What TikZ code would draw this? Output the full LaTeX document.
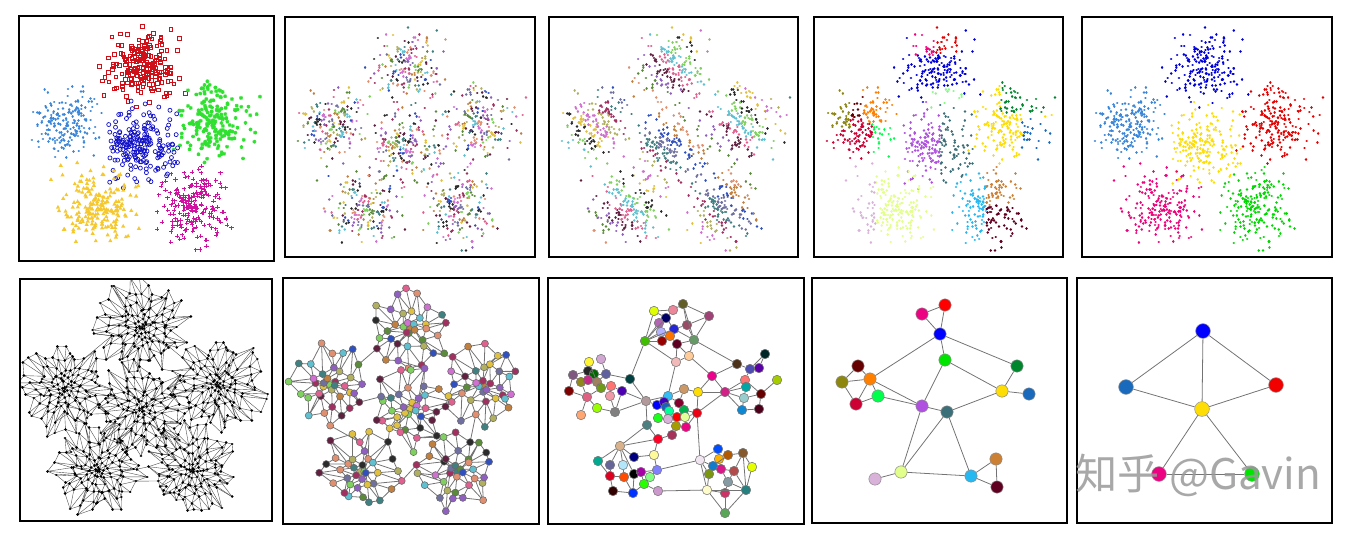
\documentclass[tikz,border=0pt]{standalone}
\usepackage{fontspec}
\newfontfamily\cjk{Noto Sans CJK SC}

% Gaussian point cloud: seed, centre x, centre y, points, spread, code per point
\newcommand{\cloud}[6]{%
  \pgfmathsetseed{#1}%
  \foreach \k in {1,...,#4}{%
    \pgfmathsetmacro\px{#2+#5*(rand+rand+rand)}%
    \pgfmathsetmacro\py{#3+#5*(rand+rand+rand)}%
    #6}}
% the six clusters of the data set, in panel coordinates
\def\cA{\cloud{11}{122}{52}{200}{16.5}}
\def\cB{\cloud{12}{46}{108}{200}{16.5}}
\def\cC{\cloud{13}{196}{106}{200}{16.5}}
\def\cD{\cloud{14}{123}{127}{200}{16.5}}
\def\cE{\cloud{15}{78}{190}{200}{16.5}}
\def\cF{\cloud{16}{175}{190}{200}{16.5}}
\newcommand{\allclouds}[1]{\cA{#1}\cB{#1}\cC{#1}\cD{#1}\cE{#1}\cF{#1}}
% one dot as a round-capped stub
\newcommand{\dotat}[1]{\draw[#1] (\px,\py) -- ++(0.01,0);}

% web of rings: name, centre x, centre y, rings, radius, seed
\newcommand{\web}[6]{%
  \pgfmathsetseed{#6}%
  \coordinate (#1-0-0) at (#2,#3);
  \foreach \r in {1,...,#4}{%
    \pgfmathtruncatemacro\m{6*\r}%
    \pgfmathsetmacro\rad{#5*(\r/#4)^1.6}%
    \foreach \j in {1,...,\m}{%
      \pgfmathsetmacro\ang{360*(\j+0.5*mod(\r,2))/\m+0.45*360/\m*rand}%
      \pgfmathsetmacro\rr{\rad*(1+0.28*rand)}%
      \coordinate (#1-\r-\j) at ({#2+\rr*cos(\ang)},{#3+\rr*sin(\ang)});
    }}}
\newcommand{\webedges}[2]{%
  \foreach \r in {1,...,#2}{%
    \pgfmathtruncatemacro\m{6*\r}%
    \pgfmathtruncatemacro\q{\r-1}%
    \foreach \j in {1,...,\m}{%
      \pgfmathtruncatemacro\nj{mod(\j,\m)+1}%
      \draw (#1-\r-\j) -- (#1-\r-\nj);
      \ifnum\r=1
        \draw (#1-\r-\j) -- (#1-0-0);
      \else
        \pgfmathsetmacro\fx{(\j+0.5*mod(\r,2))*\q/\r-0.5*mod(\q,2)}%
        \pgfmathtruncatemacro\fa{mod(floor(\fx)+6*\q-1,6*\q)+1}%
        \pgfmathtruncatemacro\fb{mod(ceil(\fx)+6*\q-1,6*\q)+1}%
        \draw (#1-\q-\fa) -- (#1-\r-\j) -- (#1-\q-\fb);
      \fi
    }}}
\newcommand{\webspots}[3]{% name, rings, code at (\wn)
  \def\wn{#1-0-0}#3%
  \foreach \r in {1,...,#2}{%
    \pgfmathtruncatemacro\m{6*\r}%
    \foreach \j in {1,...,\m}{\edef\wn{#1-\r-\j}#3}}}
% link two webs across their outer rings: web, centre, web, centre, rings, shift
\newcommand{\bridge}[8]{%
  \pgfmathsetmacro\ang{atan2(#6-#3,#5-#2)}%
  \pgfmathtruncatemacro\m{6*#7}%
  \pgfmathtruncatemacro\ja{mod(round(\ang*\m/360)+#8+2*\m-1,\m)+1}%
  \pgfmathtruncatemacro\jb{mod(round(\ang*\m/360)+\m/2-#8+2*\m-1,\m)+1}%
  \draw (#1-#7-\ja) -- (#4-#7-\jb);
}

\begin{document}
\begin{tikzpicture}[x=0.02cm, y=-0.02cm,
    frame/.style={draw=black, line width=0.6pt},
    dots/.style={line width=1.5pt, line cap=round},
    wire/.style={black!70, line width=0.22pt},
    link/.style={draw=black!55, line width=0.45pt},
    gn3/.style={circle, draw=black!55, line width=0.3pt, inner sep=0pt, minimum size=5.4pt},
    gn4/.style={circle, draw=black!45, line width=0.3pt, inner sep=0pt, minimum size=7pt},
    gn5/.style={circle, draw=black!40, line width=0.3pt, inner sep=0pt, minimum size=8.4pt}]
  % Define colours
  \definecolor{c1red}{HTML}{D01018}
  \definecolor{c1sky}{HTML}{3A86D8}
  \definecolor{c1green}{HTML}{30E030}
  \definecolor{c1blue}{HTML}{1010C8}
  \definecolor{c1gold}{HTML}{F5C830}
  \definecolor{c1mag}{HTML}{D010A0}
  \definecolor{pal0}{HTML}{2B2B2B}
  \definecolor{pal1}{HTML}{E06090}
  \definecolor{pal2}{HTML}{5A8A3A}
  \definecolor{pal3}{HTML}{3050C0}
  \definecolor{pal4}{HTML}{A03060}
  \definecolor{pal5}{HTML}{E0C040}
  \definecolor{pal6}{HTML}{60C0D0}
  \definecolor{pal7}{HTML}{9060C0}
  \definecolor{pal8}{HTML}{C08040}
  \definecolor{pal9}{HTML}{408080}
  \definecolor{pal10}{HTML}{D070D0}
  \definecolor{pal11}{HTML}{80D060}
  \definecolor{pal12}{HTML}{602040}
  \definecolor{pal13}{HTML}{E09070}
  \definecolor{pal14}{HTML}{7070A0}
  \definecolor{pal15}{HTML}{B0B060}
  % parts of the clusters in panel 4
  \colorlet{pA0}{blue!85!black}      \colorlet{pA1}{magenta!85!red}
  \colorlet{pA2}{red!90!black}       \colorlet{pA3}{green!50!white}
  \colorlet{pB0}{red!80!blue}        \colorlet{pB1}{olive!85!gray}
  \colorlet{pB2}{red!40!black}       \colorlet{pB3}{orange}
  \colorlet{pB4}{green!70!cyan}
  \colorlet{pC0}{yellow!80!orange}   \colorlet{pC1}{teal!50!green!70!black}
  \colorlet{pC2}{cyan!45!blue}
  \definecolor{pD0}{HTML}{B050E0}    \definecolor{pD1}{HTML}{3C7078}
  \colorlet{pE0}{lime!45!white}      \colorlet{pE1}{violet!30!white}
  \colorlet{pF0}{cyan!85!white}      \colorlet{pF1}{brown!80!orange}
  \colorlet{pF2}{purple!50!black}

  \useasboundingbox (0,0) rectangle (1346,532);

  % Top row, panel 1: the six clusters with their markers
  \begin{scope}[shift={(19,16)}]
    \clip (0,0) rectangle (255,245);
    \cA{\draw[c1red, line width=0.35pt] (\px,\py) +(-1.8,-1.8) rectangle +(1.8,1.8);}
    \cB{\draw[c1sky, dots] (\px,\py) -- ++(0.01,0);}
    \cC{\draw[c1green, line width=0.45pt] (\px,\py) +(-1.9,0) -- +(1.9,0) +(0,-1.9) -- +(0,1.9) +(-1.4,-1.4) -- +(1.4,1.4) +(-1.4,1.4) -- +(1.4,-1.4);}
    \cD{\draw[c1blue, line width=0.4pt] (\px,\py) circle (1.15pt);}
    \cE{\fill[c1gold] (\px,\py) +(0,-2.3) -- +(2.1,1.4) -- +(-2.1,1.4) -- cycle;}
    \cF{\draw[c1mag, line width=0.45pt] (\px,\py) +(-2.1,0) -- +(2.1,0) +(0,-2.1) -- +(0,2.1);}
  \end{scope}
  \draw[frame] (19,16) rectangle (274,261);

  % Top row, panel 2: many small groups
  \begin{scope}[shift={(285,17)}, dots]
    \clip (0,0) rectangle (250,240);
    \allclouds{\pgfmathtruncatemacro\ci{mod(abs(floor(\px/6)*7+floor(\py/6)*13),16)}\dotat{pal\ci}}
  \end{scope}
  \draw[frame] (285,17) rectangle (535,257);

  % Top row, panel 3: larger groups
  \begin{scope}[shift={(549,17)}, dots]
    \clip (0,0) rectangle (249,240);
    \allclouds{\pgfmathtruncatemacro\ci{mod(abs(floor(\px/12)*5+floor(\py/12)*11+3),16)}\dotat{pal\ci}}
  \end{scope}
  \draw[frame] (549,17) rectangle (798,257);

  % Top row, panel 4: a few parts per cluster
  \begin{scope}[shift={(814,17)}, dots]
    \clip (0,0) rectangle (249,240);
    \cA{\pgfmathtruncatemacro\ci{(\py<38 && \px>95 && \px<122) ? 1 : ((\py<36 && \px>122 && \px<147) ? 2 : ((\py>72 && \px>115 && \px<150) ? 3 : 0))}\dotat{pA\ci}}
    \cB{\pgfmathtruncatemacro\ci{(\px<36 && \py<112) ? 1 : ((\px>36 && \px<49 && \py<101) ? 2 : ((\px>49 && \py<106) ? 3 : ((\px>58 && \py>106) ? 4 : 0)))}\dotat{pB\ci}}
    \cC{\pgfmathtruncatemacro\ci{(\px>186 && \py<96) ? 1 : ((\px>208 && \py>100) ? 2 : 0)}\dotat{pC\ci}}
    \cD{\pgfmathtruncatemacro\ci{(\px>126) ? 1 : 0}\dotat{pD\ci}}
    \cE{\pgfmathtruncatemacro\ci{(\px<62) ? 1 : 0}\dotat{pE\ci}}
    \cF{\pgfmathtruncatemacro\ci{(\px>172 && \py<188) ? 1 : ((\px>172) ? 2 : 0)}\dotat{pF\ci}}
  \end{scope}
  \draw[frame] (814,17) rectangle (1063,257);

  % Top row, panel 5: the six clusters found
  \begin{scope}[shift={(1082,17)}, dots]
    \clip (0,0) rectangle (250,240);
    \cA{\dotat{pA0}}
    \cB{\dotat{c1sky}}
    \cC{\dotat{red!90!black}}
    \cD{\dotat{yellow!80!orange}}
    \cE{\dotat{magenta!85!red}}
    \cF{\dotat{green!85!black}}
  \end{scope}
  \draw[frame] (1082,17) rectangle (1332,257);

  % Bottom row, panel 1: the full graph
  \begin{scope}[wire]
    \clip (20,279) rectangle (272,521);
    \foreach \cl/\x/\y/\s in {A/142/327/21,B/65/389/22,C/218/385/23,D/142/409/24,E/98/470/25,F/192/470/26}{
      \web{w1\cl}{\x}{\y}{6}{40}{\s}
      \webedges{w1\cl}{6}
    }
    \foreach \p/\ax/\ay/\q/\bx/\by in {w1A/142/327/w1B/65/389, w1A/142/327/w1C/218/385,
        w1A/142/327/w1D/142/409, w1B/65/389/w1D/142/409, w1C/218/385/w1D/142/409,
        w1D/142/409/w1E/98/470, w1D/142/409/w1F/192/470, w1E/98/470/w1F/192/470,
        w1B/65/389/w1E/98/470, w1C/218/385/w1F/192/470}{
      \bridge{\p}{\ax}{\ay}{\q}{\bx}{\by}{6}{0}
      \bridge{\p}{\ax}{\ay}{\q}{\bx}{\by}{6}{2}
    }
    \foreach \cl in {A,B,C,D,E,F}{
      \webspots{w1\cl}{6}{\draw[black, line width=1.6pt, line cap=round] (\wn) -- ++(0.01,0);}
    }
  \end{scope}
  \draw[frame] (20,279) rectangle (272,521);

  % Bottom row, panel 2: first coarsening
  \begin{scope}[link]
    \foreach \cl/\x/\y/\s in {A/410/329/31,B/330/385/32,C/483/385/33,D/410/409/34,E/360/472/35,F/457/472/36}{
      \web{w2\cl}{\x}{\y}{3}{34}{\s}
      \webedges{w2\cl}{3}
    }
    \foreach \p/\ax/\ay/\q/\bx/\by in {w2A/410/329/w2B/330/385, w2A/410/329/w2C/483/385,
        w2A/410/329/w2D/410/409, w2B/330/385/w2D/410/409, w2C/483/385/w2D/410/409,
        w2D/410/409/w2E/360/472, w2D/410/409/w2F/457/472, w2E/360/472/w2F/457/472,
        w2B/330/385/w2E/360/472, w2C/483/385/w2F/457/472}{
      \bridge{\p}{\ax}{\ay}{\q}{\bx}{\by}{3}{0}
    }
    \pgfmathsetseed{40}
    \foreach \cl in {A,B,C,D,E,F}{
      \webspots{w2\cl}{3}{\pgfmathtruncatemacro\ci{random(0,15)}\filldraw[fill=pal\ci, draw=black!60, line width=0.3pt] (\wn) circle (2pt);}
    }
  \end{scope}
  \draw[frame] (283,278) rectangle (539,524);

  % Bottom row, panel 3: second coarsening
  \foreach \n/\x/\y/\c in {
      ta/654/311/lime!50!yellow, tb/673/310/pink!70!purple, tc/683/304/olive!60!black,
      td/709/316/magenta!60!black, te/666/318/blue!40!black, tf/659/323/violet!60!white,
      tg/687/325/purple!40!gray, th/661/332/blue!30!white, ti/674/329/blue!70!gray,
      tj/670/336/orange!90!red, tk/645/341/green!50!olive, tl/662/341/red!60!black,
      tm/677/344/purple!50!black, tn/694/340/gray!80!green, to/676/362/pink!90!gray,
      tp/689/356/orange!40!white,
      la/589/362/yellow!80!white, lb/601/359/violet!35!white, lc/588/371/black!85,
      ld/594/374/green!40!black, le/573/375/violet!30!gray, lf/606/374/blue!25!gray,
      lg/581/382/olive!80!gray, lh/588/380/magenta!80!black, li/597/382/brown!50!gray,
      lj/601/388/olive!60!green, lk/611/386/pink!60!red, ll/569/391/red!50!black,
      lm/587/397/purple!50!pink, ln/610/396/pink!80!purple, lo/622/391/violet!60!blue,
      lp/597/408/lime!80!green, lq/581/415/orange!40!pink, lr/615/412/gray,
      ls/630/379/teal!50!black,
      ma/646/401/gray!60!pink, mb/668/396/cyan!80, mc/684/389/brown!80!white,
      md/698/392/yellow!80!orange, me/725/392/magenta!70!violet, mf/657/405/blue,
      mg/664/402/blue!50!violet, mh/666/407/cyan!40!blue, mi/669/411/green!40!cyan,
      mj/679/403/purple!70!black, mk/684/410/teal!60!green, ml/697/413/red!70!purple,
      mm/658/418/green!90, mn/668/419/violet!30!white, mo/677/417/red,
      mp/685/417/lime!40!white, mq/676/426/olive!80!yellow, mr/686/427/magenta!90!red,
      ms/647/425/teal!40!gray, mt/672/435/purple!60!gray, mu/658/439/red!85!magenta,
      mv/712/376/magenta,
      ra/737/364/brown!40!black, rb/765/354/teal!30!black, rc/750/369/blue!40!gray,
      rd/759/368/violet!70!blue, re/745/380/red!55!white, rf/777/380/lime!60!olive,
      rg/746/387/teal!70!cyan, rh/744/398/teal!40!white, ri/761/394/red!40!black,
      rj/742/410/cyan!70!blue, rk/759/409/purple!40!black,
      ba/620/446/brown!60!white, bb/654/455/yellow!40!white, bc/634/457/blue!50!black,
      bd/598/461/cyan!40!green, be/610/465/blue!20!gray, bf/623/465/cyan!30!white,
      bg/610/476/purple!50!red, bh/624/477/orange!60!red, bi/634/474/black,
      bj/641/472/violet!70!magenta, bk/657/470/blue!50!white, bl/650/477/green!50!white,
      bm/644/484/green!80!lime, bn/613/491/black!80!red, bo/633/493/blue!80!cyan,
      bp/658/491/violet!40!white,
      ca/700/460/violet!10!white, cb/718/449/blue!70!cyan, cc/719/459/orange!60!yellow,
      cd/728/455/orange!70!black, ce/743/453/brown!70!black, cf/713/466/cyan!60!blue,
      cg/721/469/magenta!90!black, ch/734/471/red!40!gray, ci/709/474/olive!70!green,
      cj/752/467/lime!40!yellow, ck/728/482/cyan!20!gray, cl/746/490/teal!70!gray,
      cm/707/490/yellow!20!white, cn/725/493/purple!80, co/725/513/green!30!gray}
    \node[gn3, fill=\c] (\n) at (\x,\y) {};
  \foreach \a/\b in {ta/tb, tb/tc, tc/td, tc/tg, td/tg, td/tn, ta/tk, tf/tk, te/tk,
      tk/th, tk/ti, ti/tg, ti/tn, tg/tn, tc/tn, tm/tn, tm/to, tm/tp, tn/tp, tp/to,
      tk/to, tk/ls, to/mb, tp/mv, tn/ra, ta/te, te/ti, tl/tk,
      ra/rc, ra/mv, rc/rb, rc/rd, rb/rd, rc/re, mv/me, me/re, me/rg, me/rh, me/rj,
      re/rg, rg/rh, rh/ri, ri/rf, ri/rk, rj/rh, rj/rk, re/ri,
      mv/md, mc/md, md/me, md/ml, ml/me, ls/ma, ma/mb, ma/mf, ma/lr, ma/ms, ma/lo,
      mb/mj, mc/mj, ml/mk, ml/ca, ml/mr, ml/mp, ms/ba, ms/mu, mu/mt, mu/ba, mu/bb, mb/mc,
      la/lc, lc/ld, le/lc, le/lg, le/ll, lf/ld, lf/ls, lf/li, lg/lh, lh/li, li/lj,
      ll/lm, lm/lg, lm/lp, lm/lq, ln/lk, ln/lr, lo/lr, lr/lp, lk/lo, lj/lm, la/li, lb/lf,
      ba/bd, ba/be, ba/bf, ba/bc, ba/bi, bc/bb, bb/bk, bk/bj, bd/bg, be/bg, bf/bh,
      bg/bn, bg/bh, bn/bo, bh/bo, bi/bj, bi/bo, bj/bm, bl/bm, bm/bp, bm/bo, bp/cm,
      bk/ca, bk/bl,
      ca/cb, ca/ci, ca/cf, ca/cm, cm/ci, cm/cn, cm/co, cm/cl, co/cl, co/cn, cb/cc,
      cc/cd, cd/ce, ce/cj, ce/ch, ce/cl, cf/cg, cg/ch, cg/ck, ch/ck, ch/cl, ck/cn,
      ck/cl, cj/cl, cd/cf}
    \draw[link] (\a) -- (\b);
  \draw[frame] (548,278) rectangle (804,524);

  % Bottom row, panel 4: third coarsening
  \foreach \n/\x/\y/\c in {
      q1/922/314/magenta!90!red, q2/945/305/red, q3/940/334/blue,
      q4/945/360/green!90!black, q5/1017/366/teal!50!green!70!black,
      q6/858/366/red!40!black, q7/870/379/orange, q8/842/382/olive!90!gray,
      q9/878/396/green!70!cyan, q10/856/404/red!80!blue, q11/1002/391/yellow!80!orange,
      q12/1029/394/cyan!45!blue, q13/922/406/pD0,
      q14/947/412/pD1, q15/901/472/lime!45!white,
      q16/875/479/violet!30!white, q17/971/476/cyan!85!white,
      q18/996/459/brown!80!orange, q19/997/487/purple!50!black}
    \node[gn4, fill=\c] (\n) at (\x,\y) {};
  \foreach \a/\b in {q1/q2, q1/q3, q2/q3, q3/q4, q3/q7, q3/q5, q4/q11, q4/q13,
      q5/q11, q11/q12, q11/q14, q6/q7, q6/q8, q8/q7, q8/q10, q7/q10, q7/q9, q9/q10,
      q7/q13, q9/q13, q13/q14, q13/q15, q14/q15, q14/q17, q15/q16, q15/q17,
      q17/q18, q17/q19, q18/q19}
    \draw[link] (\a) -- (\b);
  \draw[frame] (812,278) rectangle (1067,523);

  % Bottom row, panel 5: one node per cluster
  \foreach \n/\x/\y/\c in {k1/1203/331/blue, k2/1126/387/cyan!45!blue,
      k3/1276/385/red!95!black, k4/1202/409/yellow!80!orange,
      k5/1159/474/magenta!90!red, k6/1252/474/green!90!black}
    \node[gn5, fill=\c] (\n) at (\x,\y) {};
  \foreach \a/\b in {k1/k2, k1/k3, k1/k4, k2/k4, k3/k4, k4/k5, k4/k6, k5/k6}
    \draw[link] (\a) -- (\b);
  \draw[frame] (1077,278) rectangle (1332,523);

  % Watermark
  \node[anchor=west, text=black!40, opacity=0.85, inner sep=0pt,
    font=\cjk\fontsize{24}{28}\selectfont] (mark) at (1075,475) {知乎 @Gavin};
\end{tikzpicture}
\end{document}
